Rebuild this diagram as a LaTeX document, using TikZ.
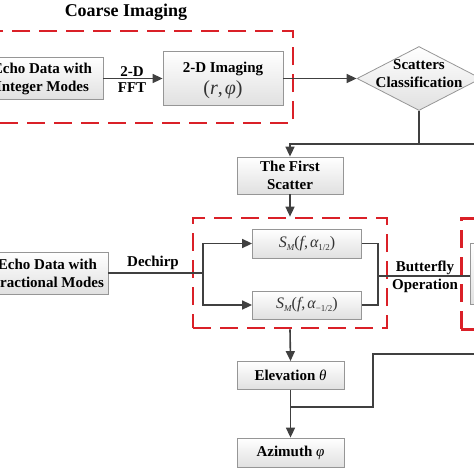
\documentclass[tikz,border=0pt]{standalone}
\usepackage{fontspec}
\setmainfont{Liberation Serif}
\usetikzlibrary{arrows.meta,shapes.geometric}
\definecolor{redd}{RGB}{218,32,40}
\definecolor{linec}{RGB}{64,64,64}
\definecolor{boxb}{RGB}{150,150,150}
\tikzset{
  procbox/.style={draw=boxb, line width=0.8pt, top color=white, bottom color=black!12,
    font=\fontsize{15}{18}\selectfont\bfseries, align=center, inner sep=0pt, text=black},
  redbox/.style={draw=redd, line width=2.7pt, dash pattern=on 18pt off 9pt, inner sep=0pt, fill=none},
  conn/.style={draw=linec, line width=1.6pt},
  arr/.style={conn, -{Triangle[length=10pt,width=9pt]}},
  lbl/.style={font=\fontsize{15}{18}\selectfont\bfseries, align=center, inner sep=0pt, text=black},
  mathlbl/.style={font=\fontsize{16}{18}\selectfont\itshape, inner sep=0pt, text=black!80}
}
\begin{document}
\begin{tikzpicture}[x=1pt,y=-1pt]
\useasboundingbox (0,0) rectangle (474,474);
\clip (0,0) rectangle (474,474);
% title
\node[lbl, font=\fontsize{18}{20}\selectfont\bfseries] (title) at (126,12) {Coarse Imaging};
% coarse imaging dashed box
\node[redbox, minimum width=320pt, minimum height=92pt] (cbox) at (133,77) {};
% boxes
\node[procbox, minimum width=121pt, minimum height=42pt] (echoI) at (42.5,78.5) {Echo Data with\\Integer Modes};
\node[procbox, minimum width=120pt, minimum height=54pt] (img) at (223,78.5) {};
\node[lbl] (imgt) at (223,69) {2-D Imaging};
\node[mathlbl, font=\fontsize{20}{22}\selectfont\itshape] (imgm) at (223,90) {\upshape(\itshape r\upshape,\kern2pt\itshape φ\upshape)};
\node[lbl, font=\fontsize{15}{16}\selectfont\bfseries] (fft) at (132,80) {2-D\\FFT};
\draw[arr] (echoI.east) -- (img.west);
% diamond
\node[diamond, draw=boxb, line width=0.8pt, top color=white, bottom color=black!12,
  minimum width=124pt, minimum height=64pt, inner sep=0pt] (cls) at (419,78.5) {};
\node[lbl] (clst) at (419,74) {Scatters\\Classification};
\draw[arr] (img.east) -- (cls.west);
% first scatter
\node[procbox, minimum width=106pt, minimum height=37pt] (first) at (290,175.5) {The First\\Scatter};
\coordinate (j1) at (419,144);
\coordinate (jr) at (480,144);
\draw[conn] (cls.south) -- (j1) -- (jr);
\draw[arr] (j1) -| (first.north);
% second dashed box
\node[redbox, minimum width=194pt, minimum height=110pt] (dbox) at (290,273) {};
\draw[arr] (first.south) -- (dbox.north);
% fractional echo
\node[procbox, minimum width=121pt, minimum height=42pt] (echoF) at (47.5,273) {Echo Data with\\Fractional Modes};
\node[lbl] (dech) at (153,263) {Dechirp};
\coordinate (split) at (203,273);
\draw[conn] (echoF.east) -- (split);
\node[procbox, minimum width=109pt, minimum height=29pt] (s1) at (307,243.5) {};
\node[mathlbl] (s1t) at (307,243.5) {S\raisebox{-0.35ex}{\fontsize{9}{9}\selectfont M}\upshape(\itshape f\upshape,\kern2pt\itshape α\raisebox{-0.35ex}{\upshape\fontsize{9}{9}\selectfont 1/2}\upshape)};
\node[procbox, minimum width=109pt, minimum height=28pt] (s2) at (307,305) {};
\node[mathlbl] (s2t) at (307,305) {S\raisebox{-0.35ex}{\fontsize{9}{9}\selectfont M}\upshape(\itshape f\upshape,\kern2pt\itshape α\raisebox{-0.35ex}{\upshape\fontsize{9}{9}\selectfont −1/2}\upshape)};
\draw[arr] (split) |- (s1.west);
\draw[arr] (split) |- (s2.west);
\coordinate (merge) at (378,276);
\coordinate (mr) at (480,276);
\draw[conn] (s1.east) -| (merge);
\draw[conn] (s2.east) -| (merge);
\draw[conn] (merge) -- (mr);
\node[lbl] (bfly) at (425,277) {Butterfly\\Operation};
% third dashed box (partial)
\node[redbox, minimum width=60pt, minimum height=111pt, anchor=north west] (ebox) at (460,217) {};
\node[procbox, minimum width=40pt, minimum height=61pt, anchor=north west] (inner) at (470,243) {};
% elevation / azimuth
\node[procbox, minimum width=107pt, minimum height=28pt] (elev) at (290.5,375.5) {Elevation \mdseries\itshape θ};
\node[procbox, minimum width=107pt, minimum height=29pt] (azi) at (290.5,452.5) {Azimuth \mdseries\itshape φ};
\draw[arr] (dbox.south) -- (elev.north);
\draw[arr] (elev.south) -- (azi.north);
\coordinate (j2) at (290.5,407);
\coordinate (j3) at (373,354);
\coordinate (j4) at (480,354);
\draw[conn] (j2) -| (j3) -- (j4);
\end{tikzpicture}
\end{document}
